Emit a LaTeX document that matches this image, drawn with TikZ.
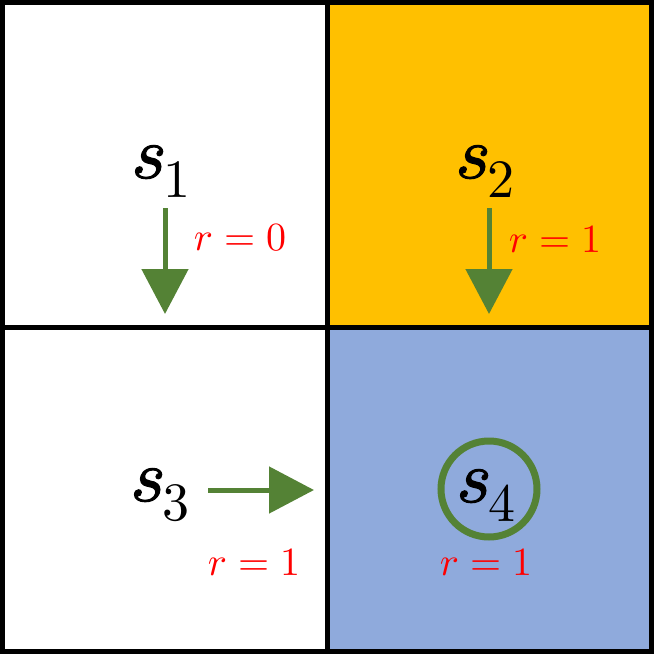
\documentclass[tikz,border=0pt]{standalone}
\usepackage{amsmath,graphicx}
\usetikzlibrary{arrows.meta}
\definecolor{gridorange}{HTML}{FFC000}
\definecolor{gridblue}{HTML}{8FAADC}
\definecolor{arrgreen}{HTML}{548235}
\newcommand{\fakebold}[1]{\special{pdf:literal q 2 Tr 0.15 w}#1\special{pdf:literal Q}}
\newcommand{\stxt}[1]{\scalebox{7.4}{\fakebold{$s$}}\kern-3pt\raisebox{-19pt}{\scalebox{5.4}{$#1$}}}
\newcommand{\rtxt}[1]{\scalebox{4}{$r=#1$}}
\tikzset{
  statelbl/.style={inner sep=0pt, anchor=base},
  rewardlbl/.style={inner sep=0pt, text=red},
  moveline/.style={draw=arrgreen, line width=5pt, -{Triangle[width=46pt,length=45pt]}},
  cellline/.style={draw=black, line width=5pt}
}
\begin{document}
\begin{tikzpicture}[x=1pt,y=-1pt]
\useasboundingbox (0,0) rectangle (654,654);
\fill[gridorange] (327,2.5) rectangle (651.5,327);
\fill[gridblue] (327,327) rectangle (651.5,651.5);
\draw[cellline] (2.5,2.5) rectangle (651.5,651.5);
\draw[cellline] (327,2.5) -- (327,651.5);
\draw[cellline] (2.5,327) -- (651.5,327);
\node[statelbl] (s1) at (161,178) {\stxt{1}};
\node[statelbl] (s2) at (485,178) {\stxt{2}};
\node[statelbl] (s3) at (160,501) {\stxt{3}};
\node[statelbl] (s4) at (486,502) {\stxt{4}};
\node[draw=arrgreen, line width=7pt, circle, minimum size=96pt] (goal) at (489,489) {};
\node[rewardlbl] (r1) at (240,238) {\rtxt{0}};
\node[rewardlbl] (r2) at (555,240) {\rtxt{1}};
\node[rewardlbl] (r3) at (254,563) {\rtxt{1}};
\node[rewardlbl] (r4) at (486,563) {\rtxt{1}};
\coordinate (a1s) at (165,208);
\coordinate (a1e) at (165,314);
\coordinate (a2s) at (489,208);
\coordinate (a2e) at (489,314);
\coordinate (a3s) at (208,490);
\coordinate (a3e) at (314,490);
\draw[moveline] (a1s) -- (a1e);
\draw[moveline] (a2s) -- (a2e);
\draw[moveline] (a3s) -- (a3e);
\end{tikzpicture}
\end{document}
